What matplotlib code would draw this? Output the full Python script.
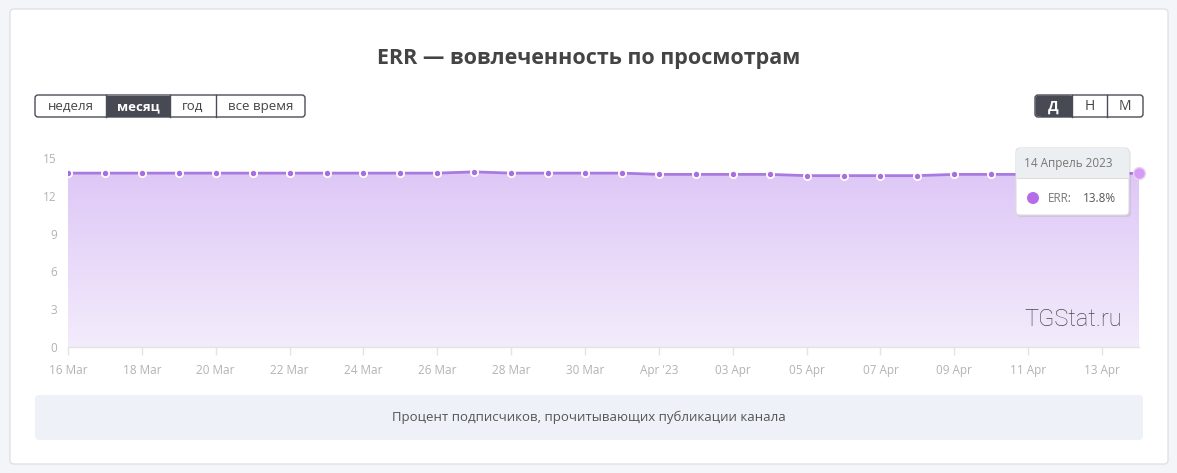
import matplotlib
matplotlib.use('Agg')
import matplotlib.pyplot as plt
import numpy as np
import pandas as pd
from matplotlib.patches import FancyBboxPatch, Rectangle, Circle
from matplotlib.transforms import IdentityTransform
from matplotlib.colors import LinearSegmentedColormap

# ---------------- data ----------------
dates = pd.date_range('2023-03-16', '2023-04-14', freq='D')
err = [13.8, 13.8, 13.8, 13.8, 13.8, 13.8, 13.8, 13.8, 13.8, 13.8, 13.8,  # 16-26 Mar
       13.9,                                                              # 27 Mar
       13.8, 13.8, 13.8, 13.8,                                            # 28-31 Mar
       13.7, 13.7, 13.7, 13.7,                                            # 1-4 Apr
       13.6, 13.6, 13.6, 13.6,                                            # 5-8 Apr
       13.7, 13.7, 13.7, 13.7,                                            # 9-12 Apr
       13.7, 13.8]                                                        # 13-14 Apr
x_tick_labels = ['16 Mar', '18 Mar', '20 Mar', '22 Mar', '24 Mar', '26 Mar', '28 Mar',
                 '30 Mar', "Apr '23", '03 Apr', '05 Apr', '07 Apr', '09 Apr', '11 Apr', '13 Apr']
y_ticks = [0, 3, 6, 9, 12, 15]
title = 'ERR — вовлеченность по просмотрам'
period_buttons = ['неделя', 'месяц', 'год', 'все время']
scale_buttons = ['Д', 'Н', 'М']
tooltip_date = '14 Апрель 2023'
tooltip_value = '13.8%'
footer = 'Процент подписчиков, прочитывающих публикации канала'

# ---------------- figure ----------------
W, H = 1177, 473
plt.rcParams['font.family'] = ['Open Sans', 'DejaVu Sans']
fig = plt.figure(figsize=(W / 100, H / 100), dpi=100, facecolor='#f4f5f9')
ID = IdentityTransform()


def fx(x):
    return x / W


def fy(y):
    return 1 - y / H


def box(x0, y0, x1, y1, fc, ec='none', lw=0.0, r=0.0, z=-1):
    if r > 0:
        p = FancyBboxPatch((x0, H - y1), x1 - x0, y1 - y0,
                           boxstyle=f'round,pad=0,rounding_size={r}',
                           fc=fc, ec=ec, lw=lw, transform=ID, zorder=z)
    else:
        p = Rectangle((x0, H - y1), x1 - x0, y1 - y0, fc=fc, ec=ec, lw=lw,
                      transform=ID, zorder=z)
    fig.add_artist(p)
    return p


# card
box(10, 9, 1168, 464, '#ffffff', ec='#dfe1e7', lw=1.0, r=4, z=-5)
# footer box
box(35, 395, 1143, 440, '#eef1f8', r=4, z=-4)
fig.text(fx(589), fy(417), footer, ha='center', va='center', fontsize=9.5, color='#555555')

# title
fig.text(fx(589), fy(58), title, ha='center', va='center', fontsize=15.5,
         fontweight='bold', color='#444444')


# button groups
def button_group(edges, labels, active, y0=95, y1=117, fs=9.5):
    box(edges[0], y0, edges[-1], y1, '#ffffff', ec='#4a4d55', lw=1.0, r=3, z=2)
    for i, lab in enumerate(labels):
        a, b = edges[i], edges[i + 1]
        if i == active:
            if i == 0:
                box(a + 0.5, y0 + 0.5, b, y1 - 0.5, '#474a52', r=3, z=3)
                box(a + 6, y0 + 0.5, b, y1 - 0.5, '#474a52', z=3)
            else:
                box(a, y0 + 0.5, b, y1 - 0.5, '#474a52', z=3)
        if i > 0:
            fig.add_artist(plt.Line2D([a, a], [H - y0, H - y1], transform=ID,
                                      color='#4a4d55', lw=1.0, zorder=4))
        fig.text(fx((a + b) / 2), fy((y0 + y1) / 2 + 0.5), lab, ha='center', va='center',
                 fontsize=fs, color='#ffffff' if i == active else '#444444',
                 fontweight='bold' if i == active else 'normal', zorder=5)


button_group([35, 106, 170, 216, 305], period_buttons, 1)
button_group([1035, 1072, 1107, 1143], scale_buttons, 0, fs=10)

# ---------------- axes ----------------
ax = fig.add_axes([fx(68), fy(347), (1139 - 68) / W, (347 - 158) / H])
ax.set_facecolor('none')
ax.set_xlim(dates[0], dates[-1])
ax.set_ylim(0, 15)

line_color = '#a97be0'
cmap = LinearSegmentedColormap.from_list('g', ['#f3ecfc', '#dcc4f6'])
grad = np.linspace(0, 1, 256).reshape(-1, 1)
xnum = matplotlib.dates.date2num(dates)
im = ax.imshow(grad, extent=[xnum[0], xnum[-1], 0, 15], origin='lower', aspect='auto',
               cmap=cmap, zorder=1)
poly = ax.fill_between(dates, err, 0, color='none', lw=0)
im.set_clip_path(poly.get_paths()[0], transform=ax.transData)

ax.plot(dates, err, color=line_color, lw=2, zorder=3, solid_joinstyle='round')
ax.plot(dates[:-1], err[:-1], ls='none', marker='o', ms=5.2, mfc='#a56fdd', mec='white',
        mew=1.3, zorder=4)
ax.axvline(dates[-1], ymin=0, ymax=0.97, color='#b5b5b5', lw=0.8, ls=(0, (3, 3)), zorder=2)
ax.plot(dates[-1:], err[-1:], ls='none', marker='o', ms=8.5, mfc='#d49cf2', mec='#ead0f8',
        mew=1, zorder=5, clip_on=False)

for s in ['top', 'right', 'left']:
    ax.spines[s].set_visible(False)
ax.spines['bottom'].set_color('#e3e3e3')
ax.spines['bottom'].set_linewidth(1)
ax.set_xticks(dates[::2])
ax.set_xticklabels(x_tick_labels)
ax.set_yticks(y_ticks)
ax.set_yticklabels([str(v) for v in y_ticks])
ax.tick_params(axis='x', length=6, width=1, color='#e3e3e3', labelcolor='#b3b3b3',
               labelsize=8.5, pad=6)
ax.tick_params(axis='y', length=0, labelcolor='#b3b3b3', labelsize=8.5, pad=8)

# watermark
fig.text(fx(1122), fy(320), 'TGStat.ru', ha='right', va='center', fontsize=17,
         family='Roboto', fontweight='light', color='#4a4a4a', zorder=6)

# ---------------- tooltip ----------------
box(1017, 150, 1131, 217, '#00000012', r=4, z=9)
box(1016, 148, 1129, 215, '#ffffff', ec='#dcdcdc', lw=0.8, r=4, z=10)
box(1016.5, 148.5, 1128.5, 178, '#eceff1', r=3.5, z=11)
box(1016.5, 170, 1128.5, 178, '#eceff1', z=11)
fig.add_artist(plt.Line2D([1016.5, 1128.5], [H - 178, H - 178], transform=ID,
                          color='#dddddd', lw=0.8, zorder=12))
fig.text(fx(1024), fy(163), tooltip_date, ha='left', va='center', fontsize=8.5,
         color='#777777', zorder=13)
fig.add_artist(Circle((1033, H - 198), 6, transform=ID, fc='#b46ce9', ec='none', zorder=13))
fig.text(fx(1048), fy(198), 'ERR:', ha='left', va='center', fontsize=8.5,
         color='#777777', zorder=13)
fig.text(fx(1083), fy(198), tooltip_value, ha='left', va='center', fontsize=8.5,
         color='#555555', zorder=13)

fig.savefig('out.png', dpi=100, facecolor=fig.get_facecolor())
